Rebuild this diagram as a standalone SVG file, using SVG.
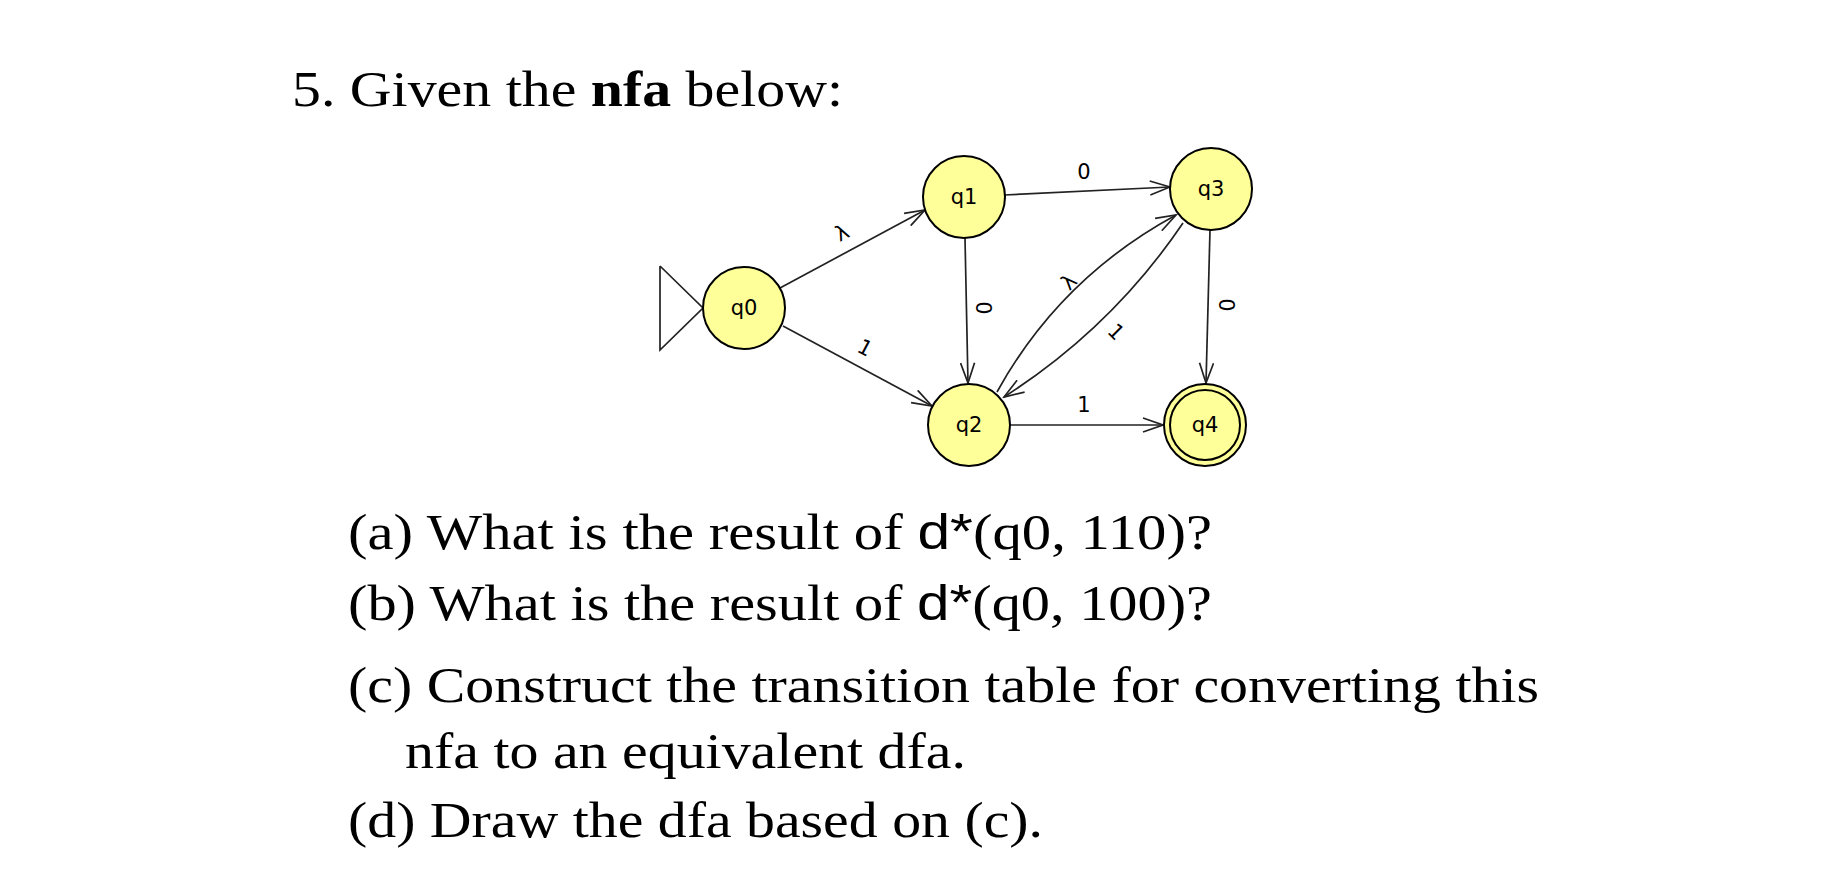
<svg xmlns="http://www.w3.org/2000/svg" width="1843" height="894" viewBox="0 0 1843 894">
<style>
.st{fill:#ffff99;stroke:#000;stroke-width:2}
.lb{font-family:"DejaVu Sans",sans-serif;font-size:21px;text-anchor:middle;dominant-baseline:central}
.e{fill:none;stroke:#222;stroke-width:1.7;marker-end:url(#ah)}
.t{font-family:"Liberation Serif",serif;font-size:50px}
.s{font-family:"Liberation Sans",sans-serif}
</style>
<defs><marker id="ah" markerWidth="24" markerHeight="16" refX="22" refY="8" orient="auto" markerUnits="userSpaceOnUse"><polyline points="2,1 22,8 2,15" fill="none" stroke="#222" stroke-width="1.7"/></marker></defs>
<rect width="1843" height="894" fill="#fff"/>
<text class="t" x="292" y="106" textLength="551" lengthAdjust="spacingAndGlyphs">5. Given the <tspan font-weight="bold">nfa</tspan> below:</text>
<g id="connectors">
<polyline points="660,266 703,308 660,350 660,266" fill="none" stroke="#222" stroke-width="1.7"/>
<line class="e" x1="780" y1="288" x2="925" y2="210"/>
<line class="e" x1="783" y1="326" x2="932" y2="406"/>
<line class="e" x1="1004" y1="195" x2="1170" y2="187"/>
<line class="e" x1="965" y1="238" x2="968" y2="383"/>
<path class="e" d="M997,392 Q1060,278 1176,215"/>
<path class="e" d="M1183,223 Q1112,328 1004,397"/>
<line class="e" x1="1210" y1="230" x2="1206" y2="383"/>
<line class="e" x1="1010" y1="425" x2="1163" y2="425"/>
<text class="lb" x="842" y="233" transform="rotate(-28 842 233)">λ</text>
<text class="lb" x="865" y="348" transform="rotate(28 865 348)">1</text>
<text class="lb" x="1084" y="172">0</text>
<text class="lb" x="983" y="308" transform="rotate(90 983 308)">0</text>
<text class="lb" x="1069" y="282" transform="rotate(-45 1069 282)">λ</text>
<text class="lb" x="1116" y="332" transform="rotate(45 1116 332)">1</text>
<text class="lb" x="1226" y="305" transform="rotate(90 1226 305)">0</text>
<text class="lb" x="1084" y="405">1</text>
</g>
<g id="q0"><circle class="st" cx="744" cy="308" r="41"/><text class="lb" x="744" y="308">q0</text></g>
<g id="q1"><circle class="st" cx="964" cy="197" r="41"/><text class="lb" x="964" y="197">q1</text></g>
<g id="q2"><circle class="st" cx="969" cy="425" r="41"/><text class="lb" x="969" y="425">q2</text></g>
<g id="q3"><circle class="st" cx="1211" cy="189" r="41"/><text class="lb" x="1211" y="189">q3</text></g>
<g id="q4"><circle class="st" cx="1205" cy="425" r="41"/><circle cx="1205" cy="425" r="35" fill="none" stroke="#000" stroke-width="2"/><text class="lb" x="1205" y="425">q4</text></g>
<text class="t" x="348" y="549" textLength="864" lengthAdjust="spacingAndGlyphs">(a) What is the result of <tspan class="s">d*</tspan>(q0, 110)?</text>
<text class="t" x="348" y="620" textLength="864" lengthAdjust="spacingAndGlyphs">(b) What is the result of <tspan class="s">d*</tspan>(q0, 100)?</text>
<text class="t" x="348" y="702" textLength="1191" lengthAdjust="spacingAndGlyphs">(c) Construct the transition table for converting this</text>
<text class="t" x="405" y="768" textLength="561" lengthAdjust="spacingAndGlyphs">nfa to an equivalent dfa.</text>
<text class="t" x="348" y="837" textLength="695" lengthAdjust="spacingAndGlyphs">(d) Draw the dfa based on (c).</text>
</svg>
